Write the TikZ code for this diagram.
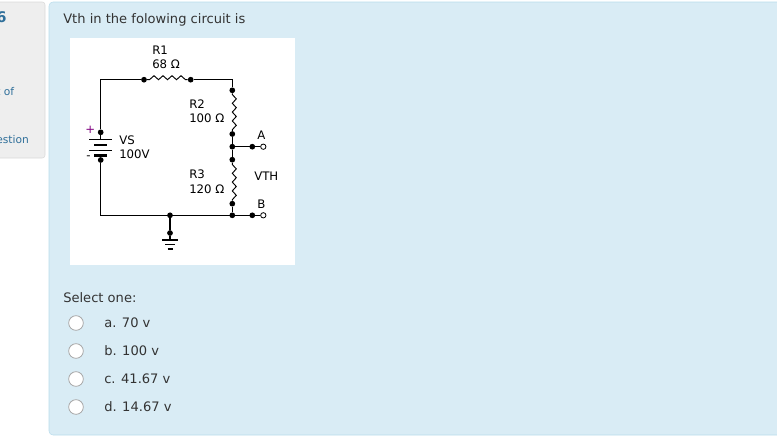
\documentclass[tikz,border=0pt]{standalone}
\usepackage{fontspec}
\setmainfont{DejaVu Sans}
\usetikzlibrary{positioning}
\definecolor{panelblue}{HTML}{D9ECF5}
\definecolor{panelline}{HTML}{B9DCEC}
\definecolor{sidegrey}{HTML}{EEEEEE}
\definecolor{qtext}{HTML}{333333}
\definecolor{sidetext}{HTML}{2F6F9A}
\tikzset{
    wire/.style={line width=1pt, black},
    dot/.style={circle, fill=black, inner sep=0pt, minimum size=4.3pt},
    term/.style={circle, draw=black, fill=white, inner sep=0pt, minimum size=4pt, line width=0.6pt},
    clabel/.style={font=\fontsize{8.8}{9}\selectfont, anchor=west, inner sep=0pt},
    qlabel/.style={font=\fontsize{9.8}{11}\selectfont, text=qtext, anchor=west, inner sep=0pt},
    radio/.style={circle, draw=gray!70, fill=white, inner sep=0pt, minimum size=11pt, line width=0.6pt}
}
\begin{document}
\begin{tikzpicture}[x=0.75pt,y=-0.75pt]
    \useasboundingbox (0,0) rectangle (777,443);
    % Side panel and main panel
    \draw[draw=gray!30, fill=sidegrey, rounded corners=2pt] (-10,2) rectangle (45,158);
    \node[anchor=west, inner sep=0pt, font=\bfseries\fontsize{11}{12}\selectfont, text=sidetext] (num) at (-4,17) {6};
    \node[anchor=west, inner sep=0pt, font=\fontsize{8}{9}\selectfont, text=sidetext] (mark) at (-4,92) {t of};
    \node[anchor=west, inner sep=0pt, font=\fontsize{8}{9}\selectfont, text=sidetext] (flag) at (-4,140) {estion};
    \draw[draw=panelline, fill=panelblue, rounded corners=3pt] (49,2) rectangle (790,435);
    \node[qlabel] (question) at (63,20) {Vth in the folowing circuit is};
    \fill[white] (70,38) rectangle (295,265);

    % Circuit coordinates
    \coordinate (TL) at (100.7,79.7);
    \coordinate (TR) at (232.3,79.7);
    \coordinate (BL) at (100.7,215.3);
    \coordinate (BR) at (232.3,215.3);
    \node[dot] (r1a) at (144,79.7) {};
    \node[dot] (r1b) at (190.7,79.7) {};
    \node[dot] (r2a) at (232.3,90.3) {};
    \node[dot] (r2b) at (232.3,134) {};
    \node[dot] (nA) at (232.3,146.7) {};
    \node[dot] (r3a) at (232.3,159.7) {};
    \node[dot] (r3b) at (232.3,203.7) {};
    \node[dot] (nB) at (232.3,215.3) {};
    \node[dot] (aA) at (252.3,146.7) {};
    \node[term] (tA) at (263.3,146.7) {};
    \node[dot] (aB) at (252.3,215.3) {};
    \node[term] (tB) at (263.3,215.3) {};
    \node[dot] (vp) at (100.7,132.3) {};
    \node[dot] (vm) at (100.7,160) {};
    \node[dot] (nG) at (170,215.3) {};
    \node[dot] (gd) at (170,233) {};

    % Wires
    \draw[wire] (vp) -- (TL) -- (r1a);
    \draw[wire] (r1b) -- (TR) -- (r2a);
    \draw[wire] (r2b) -- (nA) -- (r3a);
    \draw[wire] (r3b) -- (nB) -- (tB);
    \draw[wire] (nA) -- (tA);
    \draw[wire] (vm) -- (BL) -- (BR);
    \draw[wire] (nG) -- (gd) -- (170,240);

    % Resistors
    \draw[line width=0.7pt] (r1a) -- (149.5,79.7)
        \foreach \i in {1,...,4} {-- ++(4.5,-4) -- ++(4.5,4)} -- (r1b);
    \draw[line width=0.7pt] (r2a) -- (232.3,94.5)
        \foreach \i in {1,...,4} {-- ++(4,4.4) -- ++(-4,4.4)} -- (r2b);
    \draw[line width=0.7pt] (r3a) -- (232.3,164.5)
        \foreach \i in {1,...,4} {-- ++(4,4.4) -- ++(-4,4.4)} -- (r3b);

    % Battery
    \draw[line width=0.8pt] (vp) -- (100.7,139.5);
    \draw[line width=0.8pt] (89,139.5) -- (112,139.5);
    \draw[line width=2pt] (94,145) -- (107,145);
    \draw[line width=0.8pt] (89,150.5) -- (112,150.5);
    \draw[line width=2pt] (94,155.5) -- (107,155.5);
    \draw[line width=0.8pt] (100.7,155.5) -- (vm);

    % Ground
    \draw[line width=0.8pt] (162,240) -- (178,240);
    \draw[line width=0.8pt] (165,244.5) -- (175,244.5);
    \draw[line width=0.8pt] (167.5,249) -- (172.5,249);

    % Labels
    \node[clabel] (lR1) at (152,50) {R1};
    \node[clabel] (vR1) at (152,64) {68 Ω};
    \node[clabel] (lR2) at (189,104) {R2};
    \node[clabel] (vR2) at (189,118) {100 Ω};
    \node[clabel] (lR3) at (189,174) {R3};
    \node[clabel] (vR3) at (189,189) {120 Ω};
    \node[clabel] (lVS) at (119,140) {VS};
    \node[clabel] (vVS) at (119,154) {100V};
    \node[clabel] (lVTH) at (254,176) {VTH};
    \node[clabel] (lA) at (257,135) {A};
    \node[clabel] (lB) at (257,204) {B};
    \node[clabel, text=violet] (plus) at (85,130) {+};
    \node[clabel] (minus) at (86,158) {-};

    % Answers
    \node[qlabel] (select) at (63,298) {Select one:};
    \foreach \y/\txt [count=\k] in {323/a. 70 v, 351/b. 100 v, 379/c. 41.67 v, 407/d. 14.67 v} {
        \node[radio] (rb\k) at (76,\y) {};
        \node[qlabel] (opt\k) at (104,\y) {\txt};
    }
\end{tikzpicture}
\end{document}
